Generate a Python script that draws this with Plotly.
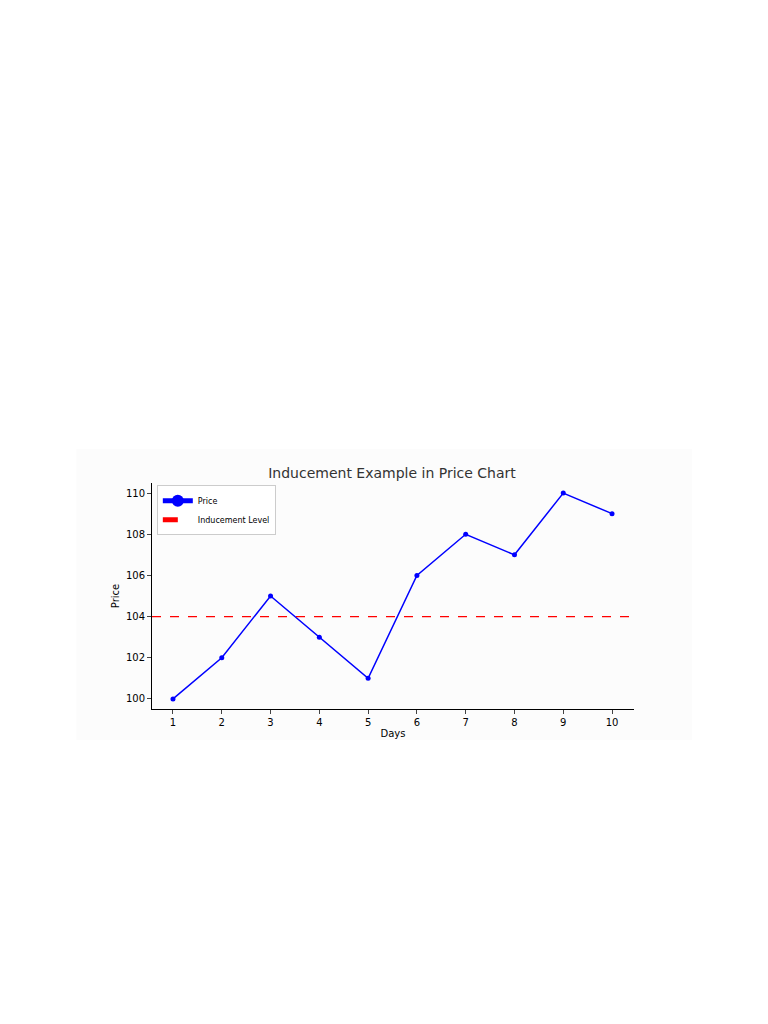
import plotly.graph_objects as go

days = [1, 2, 3, 4, 5, 6, 7, 8, 9, 10]
price = [100, 102, 105, 103, 101, 106, 108, 107, 110, 109]
inducement_level = 104

fig = go.Figure()
fig.add_trace(go.Scatter(x=days, y=price, mode="lines+markers", name="Price",
                         line=dict(color="blue", width=1.5),
                         marker=dict(color="blue", size=5)))
fig.add_trace(go.Scatter(x=[0.57, 10.45], y=[inducement_level, inducement_level],
                         mode="lines", name="Inducement Level",
                         line=dict(color="red", width=1.3, dash="dash")))

# faint image background
fig.add_shape(type="rect", xref="paper", yref="paper",
              x0=-0.157, x1=1.12, y0=-0.137, y1=1.15,
              fillcolor="#fcfcfc", line=dict(width=0), layer="below")

fig.update_layout(
    width=768, height=1024,
    paper_bgcolor="white", plot_bgcolor="#fcfcfc",
    margin=dict(l=144, r=142, t=475, b=323),
    font=dict(family="DejaVu Sans", size=10, color="black"),
    title=dict(text="Inducement Example in Price Chart", x=0.5, xanchor="center",
               y=1 - 465 / 1024, yanchor="middle",
               font=dict(size=14, color="#333")),
    showlegend=True,
    legend=dict(x=0.01, y=0.99, xanchor="left", yanchor="top",
                bgcolor="white", bordercolor="#ccc", borderwidth=1,
                font=dict(size=8), itemwidth=30, tracegroupgap=0,
                itemsizing="constant"),
    xaxis=dict(title=dict(text="Days", standoff=2, font=dict(size=10)), range=[0.57, 10.45],
               tickvals=days, showgrid=False, zeroline=False,
               showline=True, linecolor="black", ticks="outside", ticklen=4),
    yaxis=dict(title=dict(text="Price", standoff=4, font=dict(size=10)), range=[99.51, 110.49],
               tickvals=[100, 102, 104, 106, 108, 110], showgrid=False, zeroline=False,
               showline=True, linecolor="black", ticks="outside", ticklen=4),
)
fig.write_html("out.html")
